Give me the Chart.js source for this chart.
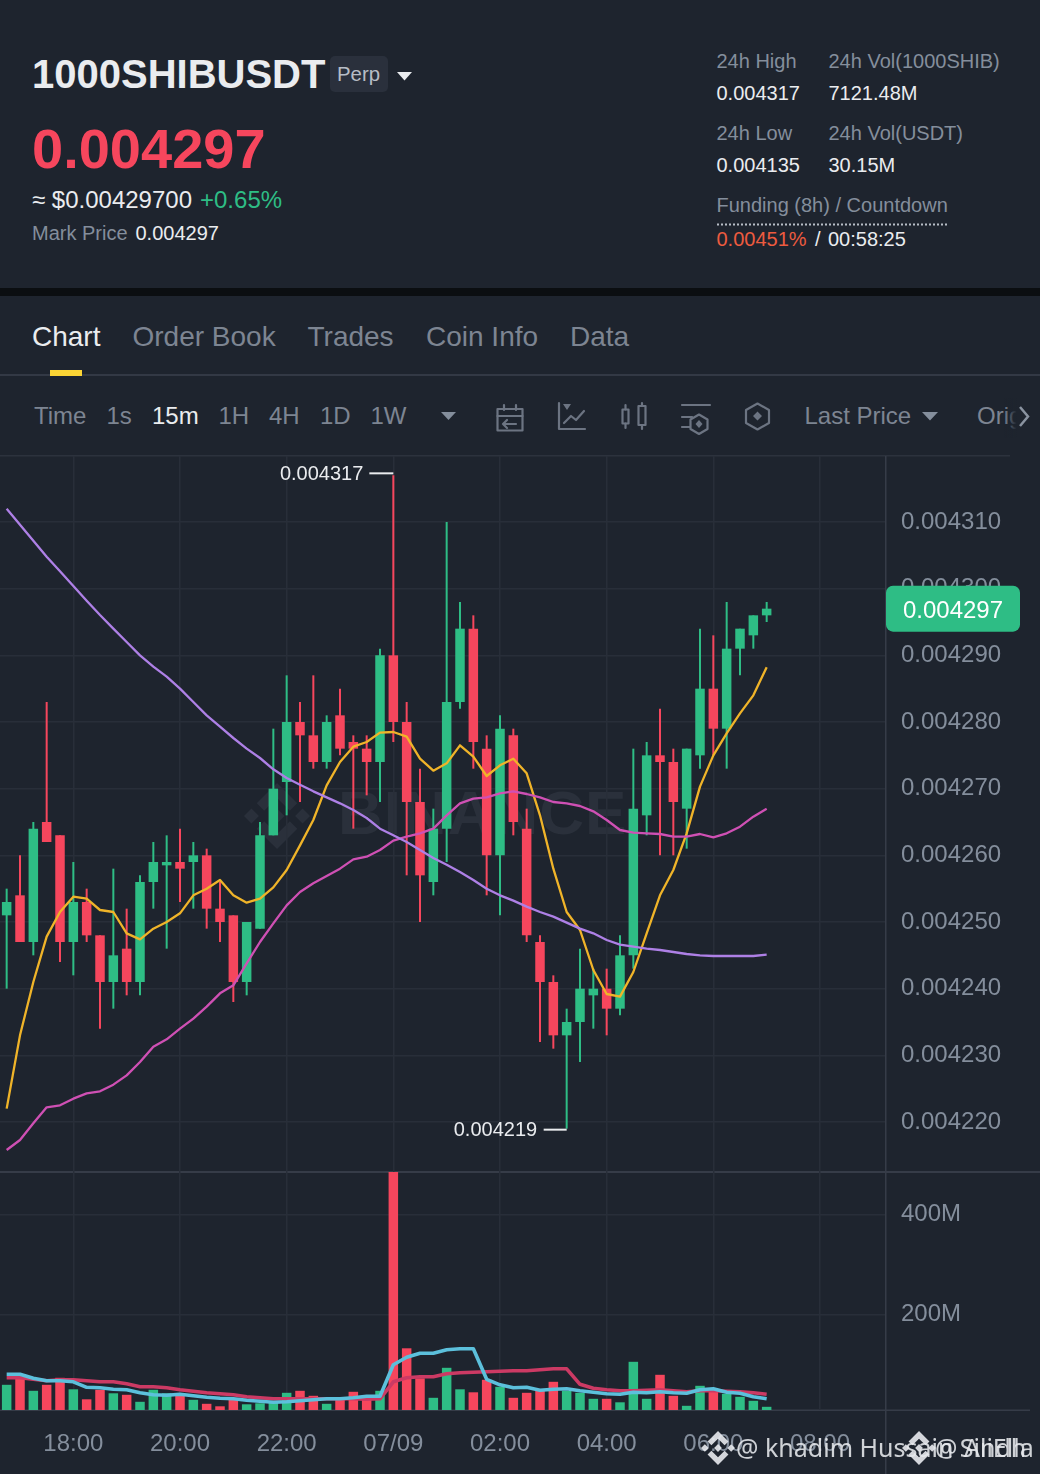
<!DOCTYPE html>
<html><head><meta charset="utf-8">
<style>
html,body{margin:0;padding:0;background:#1e242e;width:1040px;height:1474px;overflow:hidden;font-family:"Liberation Sans",Arial,sans-serif}
.t{position:absolute;white-space:nowrap;line-height:1;transform:translateY(-50%)}
canvas{position:absolute;left:0}
svg{position:absolute;left:0;top:0}
</style>
<script src="https://cdn.jsdelivr.net/npm/chart.js@4"></script>
</head><body>
<svg width="1040" height="1474" viewBox="0 0 1040 1474" id="under">
  <defs><symbol id="bn" viewBox="0 0 126.61 126.61"><path d="M38.73 53.2l24.59-24.58 24.6 24.6 14.3-14.31L63.32 0 24.42 38.9zM0 63.31l14.3-14.31 14.31 14.31-14.31 14.3zM38.73 73.41l24.59 24.59 24.6-24.6 14.31 14.29-38.9 38.91-38.91-38.88zM98 63.31l14.3-14.31 14.31 14.3-14.31 14.32zM77.83 63.3L63.32 48.78 52.59 59.51l-1.24 1.23-2.54 2.54 14.51 14.5 14.51-14.52z"/></symbol>
  <linearGradient id="fade" x1="0" x2="1" y1="0" y2="0"><stop offset="0" stop-color="#1e242e" stop-opacity="0"/><stop offset="0.35" stop-color="#1e242e"/></linearGradient></defs>
  <rect x="0" y="288" width="1040" height="8" fill="#0b0e11"/>
  <rect x="0" y="374" width="1040" height="2" fill="#333945"/>
  <rect x="50" y="370" width="32" height="6" fill="#fcd535"/>
  <rect x="0" y="455" width="1010" height="1.5" fill="#2c323d"/>
  <rect x="885" y="456" width="1.5" height="1018" fill="#363c48"/>
  <rect x="0" y="1171" width="1040" height="2" fill="#363c48"/>
  <rect x="0" y="1409.5" width="1030" height="1.5" fill="#363c48"/>
  <line x1="717" y1="224.5" x2="949" y2="224.5" stroke="#b7bdc6" stroke-width="2" stroke-dasharray="2 2"/>
  <rect x="330" y="56" width="58" height="36" rx="5" fill="#2a303c"/>
  <path d="M397 72h15l-7.5 8.5z" fill="#eaecef"/>
  <path d="M441 412h15l-7.5 8z M922 412h16l-8 8.5z" fill="#848e9c"/>
  <use href="#bn" x="244" y="783" width="66" height="66" fill="#2a303b"/>
  <text x="338" y="834" font-family="Liberation Sans" font-weight="700" font-size="62" letter-spacing="1" fill="#2a303b">BINANCE</text>
  <g fill="none" stroke="#6c7482" stroke-width="2.2" stroke-linecap="round" stroke-linejoin="round">
    <rect x="497.5" y="409" width="25" height="21.5"/><path d="M497.5 416h25M504 405v5M516 405v5M516 424h-13M507 420l-4 4 4 4"/>
    <path d="M559 403v26h26M564 423l7-7 5 4 8-9"/>
    <rect x="622.5" y="409.5" width="6" height="14"/><path d="M625.5 405v4.5M625.5 423.5v4.5M642 403v3M642 425v4"/><rect x="638.5" y="406" width="7" height="19"/>
    <path d="M682 405h28M682 417h10M682 427h8M699 414.5l8.5 5v9.5l-8.5 5-8.5-5v-9.5z"/>
    <path d="M757.5 403.5l11.5 6.5v13l-11.5 6.5-11.5-6.5v-13z"/>
  </g>
  <path d="M563 404h8l-4 6z M757.5 411.5l4.5 4.5-4.5 4.5-4.5-4.5z M699 420l3.5 4-3.5 4-3.5-4z" fill="#6c7482"/>
</svg>
<div id="txt"></div>
<canvas id="main" width="1040" height="716" style="top:456px;width:1040px;height:716px"></canvas>
<canvas id="vol" width="1040" height="302" style="top:1172px;width:1040px;height:302px"></canvas>
<svg width="1040" height="1474" viewBox="0 0 1040 1474" style="pointer-events:none">
  <use href="#bn" x="701" y="1431" width="34" height="34" fill="#e8eaee" fill-opacity=".9"/>
  <use href="#bn" x="902" y="1431" width="34" height="34" fill="#e8eaee" fill-opacity=".9"/>
  <text x="736" y="1456.5" font-family="Noto Sans" font-size="25" fill="#e8eaee" fill-opacity=".88">@ khadim Hussain Sindh</text>
  <text x="935" y="1456.5" font-family="Noto Sans" font-size="25" fill="#e8eaee" fill-opacity=".88">@ AliElla</text>
  <rect x="1004" y="398" width="36" height="40" fill="url(#fade)"/>
  <path d="M1020 407l8 9.5-8 9.5" fill="none" stroke="#8a93a0" stroke-width="2.5"/>
</svg>
<script>
// Price values below are in millionths of USDT (4297 = 0.004297).
const PRICE_UNIT = 1e-6;
const opens = [4251,4254,4247,4265,4263,4247,4253,4248,4241,4246,4241,4256,4258.5,4259,4259,4260,4252,4251,4241,4249,4263,4271,4280,4278,4274,4281,4277,4276,4274,4290,4280,4268,4256,4264,4283,4294,4276,4260,4278,4264,4247,4241,4233,4235,4239,4240,4237,4245,4266,4275,4274,4267,4275,4285,4279,4291,4293,4296];
const closes = [4253,4247,4264,4262,4247,4253,4248,4241,4245,4241,4256,4259,4259,4258,4260,4252,4250,4241,4250,4263,4270,4280,4278,4274,4280,4276,4276,4274,4290,4280,4268,4257,4264,4283,4294,4277,4260,4279,4265,4248,4241,4233,4235,4240,4240,4237,4245,4267,4275,4274,4268,4276,4285,4279,4291,4294,4296,4297];
const highs = [4255,4260,4265,4283,4263,4259,4255,4248,4258,4252,4257,4262,4263,4264,4262,4261,4256,4251,4250,4265,4279,4287,4283,4287,4281,4285,4278,4278,4291,4317,4283,4273,4267,4310,4298,4296,4278,4281,4279,4267,4248,4242,4237,4246,4243,4243,4248,4276,4277,4282,4276,4276,4294,4293,4298,4294,4296,4298];
const lows = [4240,4247,4245,4262,4244,4242,4247,4234,4237,4239,4239,4252,4246,4253,4252,4249,4247,4238,4239,4249,4263,4266,4268,4273,4273,4275,4264,4269,4268,4277,4257,4250,4254,4259,4282,4273,4254,4251,4263,4247,4232,4231,4219,4229,4234,4233,4236,4243,4263,4260,4260,4261,4273,4275,4273,4287,4291,4295];
const maFast = [4222,4233,4241,4247.8,4251.5,4253.8,4253.5,4251.8,4251.5,4248.3,4247.4,4249,4250,4251.3,4254,4255,4256.3,4254,4252.9,4253.5,4255.2,4257.8,4261.5,4265.3,4270.5,4274,4276.3,4277,4278.4,4278.5,4277.8,4274.5,4272.7,4273.8,4276.5,4274.8,4271.9,4273.5,4274.5,4272.3,4266,4258,4251.5,4248.8,4242.8,4239.2,4238.8,4242.5,4248.3,4254,4257.8,4263.3,4270.3,4275,4278.3,4281.3,4284,4288.2];
const maMid = [4215.8,4217.3,4219.8,4222.2,4222.5,4223.5,4224.3,4224.6,4225.6,4227,4229,4231.3,4232.4,4234,4235.5,4237.3,4239.3,4240.5,4243.8,4247,4249.8,4252.5,4254.5,4255.8,4256.9,4258,4259.4,4259.8,4260.8,4262.2,4262.8,4263.3,4264,4266,4267.8,4268.5,4268.7,4269.3,4269.6,4269.2,4268.7,4268,4267.8,4267.4,4266.6,4265.3,4263.8,4263.4,4263.3,4263.2,4262.8,4262.8,4263.2,4262.7,4263.3,4264.3,4265.8,4267];
const maSlow = [4312,4309.6,4307.2,4304.8,4302.6,4300.4,4298.2,4296.05,4294,4292,4290,4288.3,4286.8,4285,4283,4281,4279.3,4277.6,4276,4274.6,4272.9,4271.6,4270.6,4269.6,4268.7,4267.8,4266.8,4265.6,4264,4263,4262,4260.8,4259.6,4258.6,4257.5,4256.3,4255,4254,4253.2,4252.3,4251.5,4250.8,4249.9,4249,4248.3,4247.3,4246.6,4246.3,4246,4245.8,4245.5,4245.2,4245,4244.9,4244.9,4244.9,4244.9,4245.1];
// Volumes in millions.
const volumes = [59,72,47,59,73,50,30,49,42,39,25,49,42,39,29,21,16,29,20,22,23,43,47,37,21,32,45,32,47,490,132,72,33,93,50,44,69,55,33,43,47,65,47,43,31,31,24,105,31,79,37,17,57,47,41,35,27,15];
const volMaFast = [80,80,72,67,67,65,54,53,50,49,43,39,38,40,37,34,32,31,28,26,24,25,27,29,31,31,33,36,36,99,114,122,122,129,131,131,70,59,53,54,48,50,51,47,44,41,40,44,43,45,43,42,49,51,44,42,35,31];
const volMaSlow = [73,73,70,67,69,69,67,65,65,61,55,55,53,49,46,43,41,39,35,33,31,31,31,31,31,31,31,30,31,65,73,75,75,81,83,84,85,86,87,87,89,91,91,60,52,49,47,47,48,49,47,45,47,47,46,45,43,40];
const timeTickIndex = [5,13,21,29,37,45,53,61];
const timeTickLabels = ['18:00','20:00','22:00','07/09','02:00','04:00','06:00','08:00'];
const priceTicks = [4310,4300,4290,4280,4270,4260,4250,4240,4230,4220];
const volumeTicks = [400,200];
const lastPrice = 4297;

const UP='#2ebd85', DOWN='#f6465d', GRID='#282e39', AXIS='#848e9c';
const FONT='"Liberation Sans", Arial, sans-serif';
const texts = [
 [32,74,'1000SHIBUSDT',40,'#eaecef',700],[337,74,'Perp',20.4,'#b7bdc6',400],
 [32,149,'0.004297',56,DOWN,700],
 [32,200,'≈ $0.00429700',24,'#eaecef',400],[200,200,'+0.65%',24,UP,400],
 [32,233,'Mark Price',20,'#848e9c',400],[135.5,233,'0.004297',20,'#eaecef',400],
 [716.5,61,'24h High',20,'#848e9c',400],[828.5,61,'24h Vol(1000SHIB)',20,'#848e9c',400],
 [716.5,93,'0.004317',20,'#eaecef',400],[828.5,93,'7121.48M',20,'#eaecef',400],
 [716.5,133,'24h Low',20,'#848e9c',400],[828.5,133,'24h Vol(USDT)',20,'#848e9c',400],
 [716.5,165,'0.004135',20,'#eaecef',400],[828.5,165,'30.15M',20,'#eaecef',400],
 [716.5,205,'Funding (8h) / Countdown',20,'#848e9c',400],
 [716.5,239,'0.00451%',20,'#ed5b3f',400],[815,239,'/',20,'#eaecef',400],[828,239,'00:58:25',20,'#eaecef',400],
 [32,337,'Chart',28,'#eaecef',400],[132.5,337,'Order Book',28,'#7d8592',400],[307.5,337,'Trades',28,'#7d8592',400],[426,337,'Coin Info',28,'#7d8592',400],[570,337,'Data',28,'#7d8592',400],
 [34,416,'Time',24,'#7d8592',400],[106.5,416,'1s',24,'#7d8592',400],[152,416,'15m',24,'#eaecef',400],[218.5,416,'1H',24,'#7d8592',400],[269,416,'4H',24,'#7d8592',400],[320,416,'1D',24,'#7d8592',400],[370.5,416,'1W',24,'#7d8592',400],
 [804.5,416,'Last Price',24,'#7d8592',400],[977,416,'Original',24,'#7d8592',400]
];
const txt=document.getElementById('txt');
texts.forEach(([x,y,s,size,c,w])=>{const d=document.createElement('div');d.className='t';d.textContent=s;
 d.style.cssText=`left:${x}px;top:${y}px;font-size:${size}px;color:${c};font-weight:${w}`;txt.appendChild(d);});

const idx = opens.map((_,i)=>i);
const price = v => v*PRICE_UNIT;
const barColors = idx.map(i=>closes[i]>=opens[i]?UP:DOWN);
const xRange = {type:'linear',min:-0.5,max:65.875,offset:false};
const xTickBuild = s=>{s.ticks=timeTickIndex.map(v=>({value:v}));};
const noPad = s=>{s.paddingTop=0;s.paddingBottom=0;s.paddingLeft=0;s.paddingRight=0;};
const lineSet=(vals,color,width,map)=>({type:'line',order:0,data:idx.map(i=>({x:i,y:map(vals[i])})),borderColor:color,borderWidth:width,pointRadius:0,tension:0,borderJoinStyle:'round',fill:false});

const overlay={id:'overlay',afterDraw(c){
  const g=c.ctx,y=c.scales.y,x=c.scales.x;
  g.save();
  g.font='20px '+FONT;g.textBaseline='middle';g.fillStyle='#eaecef';g.strokeStyle='#eaecef';g.lineWidth=2;
  const hi=Math.max(...highs),lo=Math.min(...lows);
  const hx=x.getPixelForValue(highs.indexOf(hi)),hy=y.getPixelForValue(price(hi))-2;
  const lx=x.getPixelForValue(lows.indexOf(lo)),ly=y.getPixelForValue(price(lo))+1;
  g.textAlign='right';
  g.fillText((hi*PRICE_UNIT).toFixed(6),hx-30,hy+1);g.beginPath();g.moveTo(hx-24,hy);g.lineTo(hx,hy);g.stroke();
  g.fillText((lo*PRICE_UNIT).toFixed(6),lx-29.5,ly+1);g.beginPath();g.moveTo(lx-23,ly);g.lineTo(lx,ly);g.stroke();
  const py=y.getPixelForValue(price(lastPrice));
  g.fillStyle=UP;g.beginPath();g.roundRect(886,py-23,134,46,7);g.fill();
  g.fillStyle='#fff';g.textAlign='center';g.font='24px '+FONT;g.fillText((lastPrice*PRICE_UNIT).toFixed(6),953,py+3);
  g.restore();
}};

new Chart(document.getElementById('main'),{
  data:{datasets:[
    lineSet(maSlow,'#ae80e6',2.3,price),
    lineSet(maMid,'#cf50b4',2.3,price),
    lineSet(maFast,'#f0b429',2.3,price),
    {type:'bar',order:2,grouped:false,barThickness:2,inflateAmount:0,data:idx.map(i=>({x:i,y:[price(lows[i]),price(highs[i])]})),backgroundColor:barColors},
    {type:'bar',order:1,grouped:false,barThickness:9.5,inflateAmount:0,data:idx.map(i=>({x:i,y:[price(opens[i]),price(closes[i])]})),backgroundColor:barColors}
  ]},
  options:{responsive:false,animation:false,devicePixelRatio:1,
    layout:{padding:0},
    plugins:{legend:{display:false},tooltip:{enabled:false}},
    scales:{
      x:{...xRange,afterBuildTicks:xTickBuild,afterFit:s=>{noPad(s);s.height=0;},ticks:{display:false},border:{display:false},grid:{offset:false,color:GRID,lineWidth:1.5,drawTicks:false}},
      y:{type:'linear',position:'right',min:0.0042125,max:0.0043199,
        afterBuildTicks:s=>{s.ticks=priceTicks.map(v=>({value:price(v)}));},
        afterFit:s=>{noPad(s);s.width=155;},
        ticks:{padding:16,color:AXIS,font:{family:FONT,size:24},callback:v=>v.toFixed(6),autoSkip:false},
        border:{display:false},grid:{color:GRID,lineWidth:1.5,drawTicks:false}}
    }},
  plugins:[overlay]
});

new Chart(document.getElementById('vol'),{
  data:{datasets:[
    lineSet(volMaFast,'#5cc0dc',3.6,v=>v),
    lineSet(volMaSlow,'#cc3a64',3.6,v=>v),
    {type:'bar',order:1,grouped:false,barThickness:9.5,inflateAmount:0,data:idx.map(i=>({x:i,y:volumes[i]})),backgroundColor:barColors}
  ]},
  options:{responsive:false,animation:false,devicePixelRatio:1,
    layout:{padding:0},
    plugins:{legend:{display:false},tooltip:{enabled:false}},
    scales:{
      x:{...xRange,afterBuildTicks:xTickBuild,afterFit:s=>{noPad(s);s.height=64;},
        ticks:{padding:20,color:AXIS,font:{family:FONT,size:24},autoSkip:false,maxRotation:0,callback:v=>timeTickLabels[timeTickIndex.indexOf(v)]},
        border:{display:false},grid:{offset:false,color:GRID,lineWidth:1.5,drawTicks:false}},
      y:{type:'linear',position:'right',min:8.6,max:484.6,
        afterBuildTicks:s=>{s.ticks=volumeTicks.map(v=>({value:v}));},
        afterFit:s=>{noPad(s);s.width=155;},
        ticks:{padding:16,color:AXIS,font:{family:FONT,size:24},callback:v=>v+'M',autoSkip:false},
        border:{display:false},grid:{color:GRID,lineWidth:1.5,drawTicks:false}}
    }}
});
</script>
</body></html>
